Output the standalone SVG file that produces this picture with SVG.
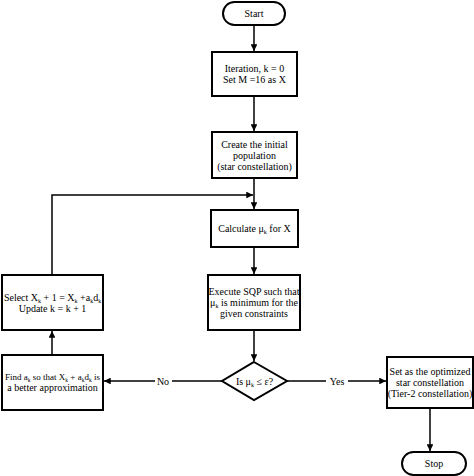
<svg xmlns="http://www.w3.org/2000/svg" width="474" height="476" viewBox="0 0 474 476">
<defs>
<marker id="ah" viewBox="0 0 10 10" refX="10" refY="5" markerWidth="4.5" markerHeight="4.5" orient="auto" markerUnits="strokeWidth">
<path d="M0,0 L10,5 L0,10 z" fill="#000"/>
</marker>
</defs>
<style>
.b{fill:#fff;stroke:#000;stroke-width:2}
.t{font-family:"Liberation Serif","Times New Roman",serif;font-size:10px;fill:#000;text-anchor:middle}
.c{fill:none;stroke:#000;stroke-width:1.5}
.a{marker-end:url(#ah)}
.s{font-size:6px}
.f{font-size:9px}
.f .s{font-size:5.5px}
</style>
<rect width="474" height="476" fill="#fff"/>
<g id="connectors">
<line class="c a" x1="254" y1="25" x2="254" y2="51"/>
<line class="c a" x1="254" y1="96" x2="254" y2="131"/>
<line class="c a" x1="254" y1="178" x2="254" y2="209"/>
<line class="c a" x1="254" y1="247" x2="254" y2="274"/>
<line class="c a" x1="254" y1="330" x2="254" y2="361"/>
<line class="c a" x1="222" y1="381" x2="104" y2="381"/>
<line class="c a" x1="287" y1="381" x2="386" y2="381"/>
<line class="c a" x1="430" y1="408" x2="430" y2="451"/>
<line class="c a" x1="52" y1="355" x2="52" y2="331"/>
<polyline class="c a" points="52,275 52,195 253,195"/>
<rect x="155" y="375" width="17" height="12" fill="#fff"/>
<text class="t" x="163" y="385">No</text>
<rect x="326" y="375" width="22" height="12" fill="#fff"/>
<text class="t" x="337" y="385">Yes</text>
</g>
<g id="start">
<rect class="b" x="223" y="2" width="62" height="23" rx="11.5"/>
<text class="t" x="254" y="17">Start</text>
</g>
<g id="init">
<rect class="b" x="212" y="52" width="85" height="44"/>
<text class="t" x="254.5" y="72">Iteration, k = 0</text>
<text class="t" x="254.5" y="83">Set M =16 as X</text>
</g>
<g id="population">
<rect class="b" x="212" y="132" width="85" height="46"/>
<text class="t" x="254.5" y="148">Create the initial</text>
<text class="t" x="254.5" y="159">population</text>
<text class="t" x="254.5" y="170">(star constellation)</text>
</g>
<g id="calculate">
<rect class="b" x="211" y="210" width="87" height="37"/>
<text class="t" x="254.5" y="232">Calculate μ<tspan class="s" dy="2">k</tspan><tspan dy="-2"> for X</tspan></text>
</g>
<g id="sqp">
<rect class="b" x="208" y="275" width="92" height="55"/>
<text class="t" x="254" y="295">Execute SQP such that</text>
<text class="t" x="254" y="306">μ<tspan class="s" dy="2">k</tspan><tspan dy="-2"> is minimum for the</tspan></text>
<text class="t" x="254" y="317">given constraints</text>
</g>
<g id="decision">
<polygon class="b" points="254,362 287,381 254,400 222,381"/>
<text class="t" x="254.5" y="385">Is μ<tspan class="s" dy="2">k</tspan><tspan dy="-2"> ≤ ε?</tspan></text>
</g>
<g id="select">
<rect class="b" x="2" y="275" width="101" height="55"/>
<text class="t" x="52.5" y="301">Select X<tspan class="s" dy="2">k</tspan><tspan dy="-2"> + 1 = X</tspan><tspan class="s" dy="2">k</tspan><tspan dy="-2"> +a</tspan><tspan class="s" dy="2">k</tspan><tspan dy="-2">d</tspan><tspan class="s" dy="2">k</tspan></text>
<text class="t" x="52.5" y="312">Update k = k + 1</text>
</g>
<g id="find">
<rect class="b" x="2" y="355" width="101" height="55"/>
<text class="t f" x="52.5" y="380">Find a<tspan class="s" dy="2">k</tspan><tspan dy="-2"> so that X</tspan><tspan class="s" dy="2">k</tspan><tspan dy="-2"> + a</tspan><tspan class="s" dy="2">k</tspan><tspan dy="-2">d</tspan><tspan class="s" dy="2">k</tspan><tspan dy="-2"> is</tspan></text>
<text class="t" x="52.5" y="391">a better approximation</text>
</g>
<g id="optimized">
<rect class="b" x="387" y="357" width="86" height="51"/>
<text class="t" x="430" y="375">Set as the optimized</text>
<text class="t" x="430" y="386">star constellation</text>
<text class="t" x="430" y="397">(Tier-2 constellation)</text>
</g>
<g id="stop">
<rect class="b" x="402" y="452" width="64" height="23" rx="11.5"/>
<text class="t" x="434" y="467">Stop</text>
</g>
</svg>
